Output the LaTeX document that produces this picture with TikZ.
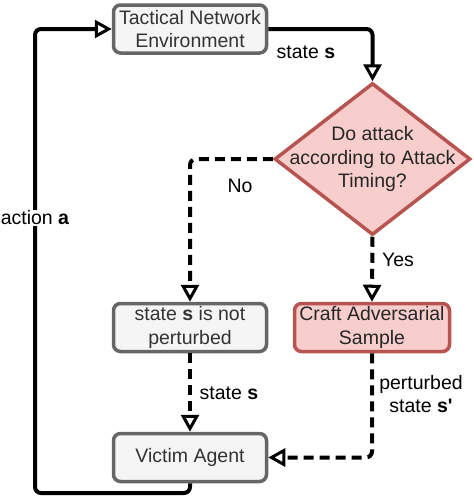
\documentclass[tikz,border=0pt]{standalone}
\usepackage{fontspec}
\setmainfont{Liberation Sans}
\usetikzlibrary{shapes.geometric,arrows.meta}
\definecolor{boxfill}{HTML}{F5F5F5}
\definecolor{boxline}{HTML}{666666}
\definecolor{boxtext}{HTML}{333333}
\definecolor{redfill}{HTML}{F8CECC}
\definecolor{redline}{HTML}{B85450}
\begin{document}
\begin{tikzpicture}[x=1pt,y=-1pt,
  every node/.style={font=\fontsize{19.5}{23.5}\selectfont},
  graybox/.style={draw=boxline,fill=boxfill,text=boxtext,line width=3.5pt,rounded corners=7pt,
    minimum width=153pt,minimum height=48pt,inner sep=0pt,align=center},
  redbox/.style={draw=redline,fill=redfill,text=black!85,line width=3.5pt,rounded corners=7pt,
    minimum width=155pt,minimum height=48pt,inner sep=0pt,align=center},
  decision/.style={diamond,draw=redline,fill=redfill,line width=3.5pt,inner sep=0pt,
    minimum width=196pt,minimum height=152pt,aspect=1.29},
  flow/.style={line width=4pt,rounded corners=6pt,
    -{Triangle[open,length=17pt,width=18pt,line width=3pt,fill=white]}},
  dflow/.style={flow,dash pattern=on 10pt off 6pt},
  lbl/.style={text=black,inner sep=1pt,align=center}
]
\useasboundingbox (0,0) rectangle (474,499);
\node[graybox] (tne) at (190,29) {Tactical Network\\Environment};
\node[decision,label={[align=center,text=black!85,font=\fontsize{19.5}{23.5}\selectfont]center:Do attack\\according to Attack\\Timing?}] (dec) at (372.5,159) {};
\node[graybox] (np) at (190,327.5) {state \textbf{s} is not\\perturbed};
\node[redbox] (cas) at (372,327.5) {Craft Adversarial\\Sample};
\node[graybox] (va) at (190,457.5) {Victim Agent};
\coordinate (bl) at (35,493);
\draw[flow] (va.south) |- (bl) |- (tne.west);
\draw[flow] (tne.east) -| (dec.north);
\draw[dflow] (dec.west) -| (np.north);
\draw[dflow] (dec.south) -- (cas.north);
\draw[dflow] (np.south) -- (va.north);
\draw[dflow] (cas.south) |- (va.east);
\node[lbl,fill=white] (la) at (35,218) {action \textbf{a}};
\node[lbl] (ls1) at (306,52) {state \textbf{s}};
\node[lbl] (lno) at (240,186) {No};
\node[lbl] (lyes) at (398,260) {Yes};
\node[lbl] (ls2) at (229,393) {state \textbf{s}};
\node[lbl] (lps) at (421,394) {perturbed\\state \textbf{s\textquotesingle}};
\end{tikzpicture}
\end{document}
